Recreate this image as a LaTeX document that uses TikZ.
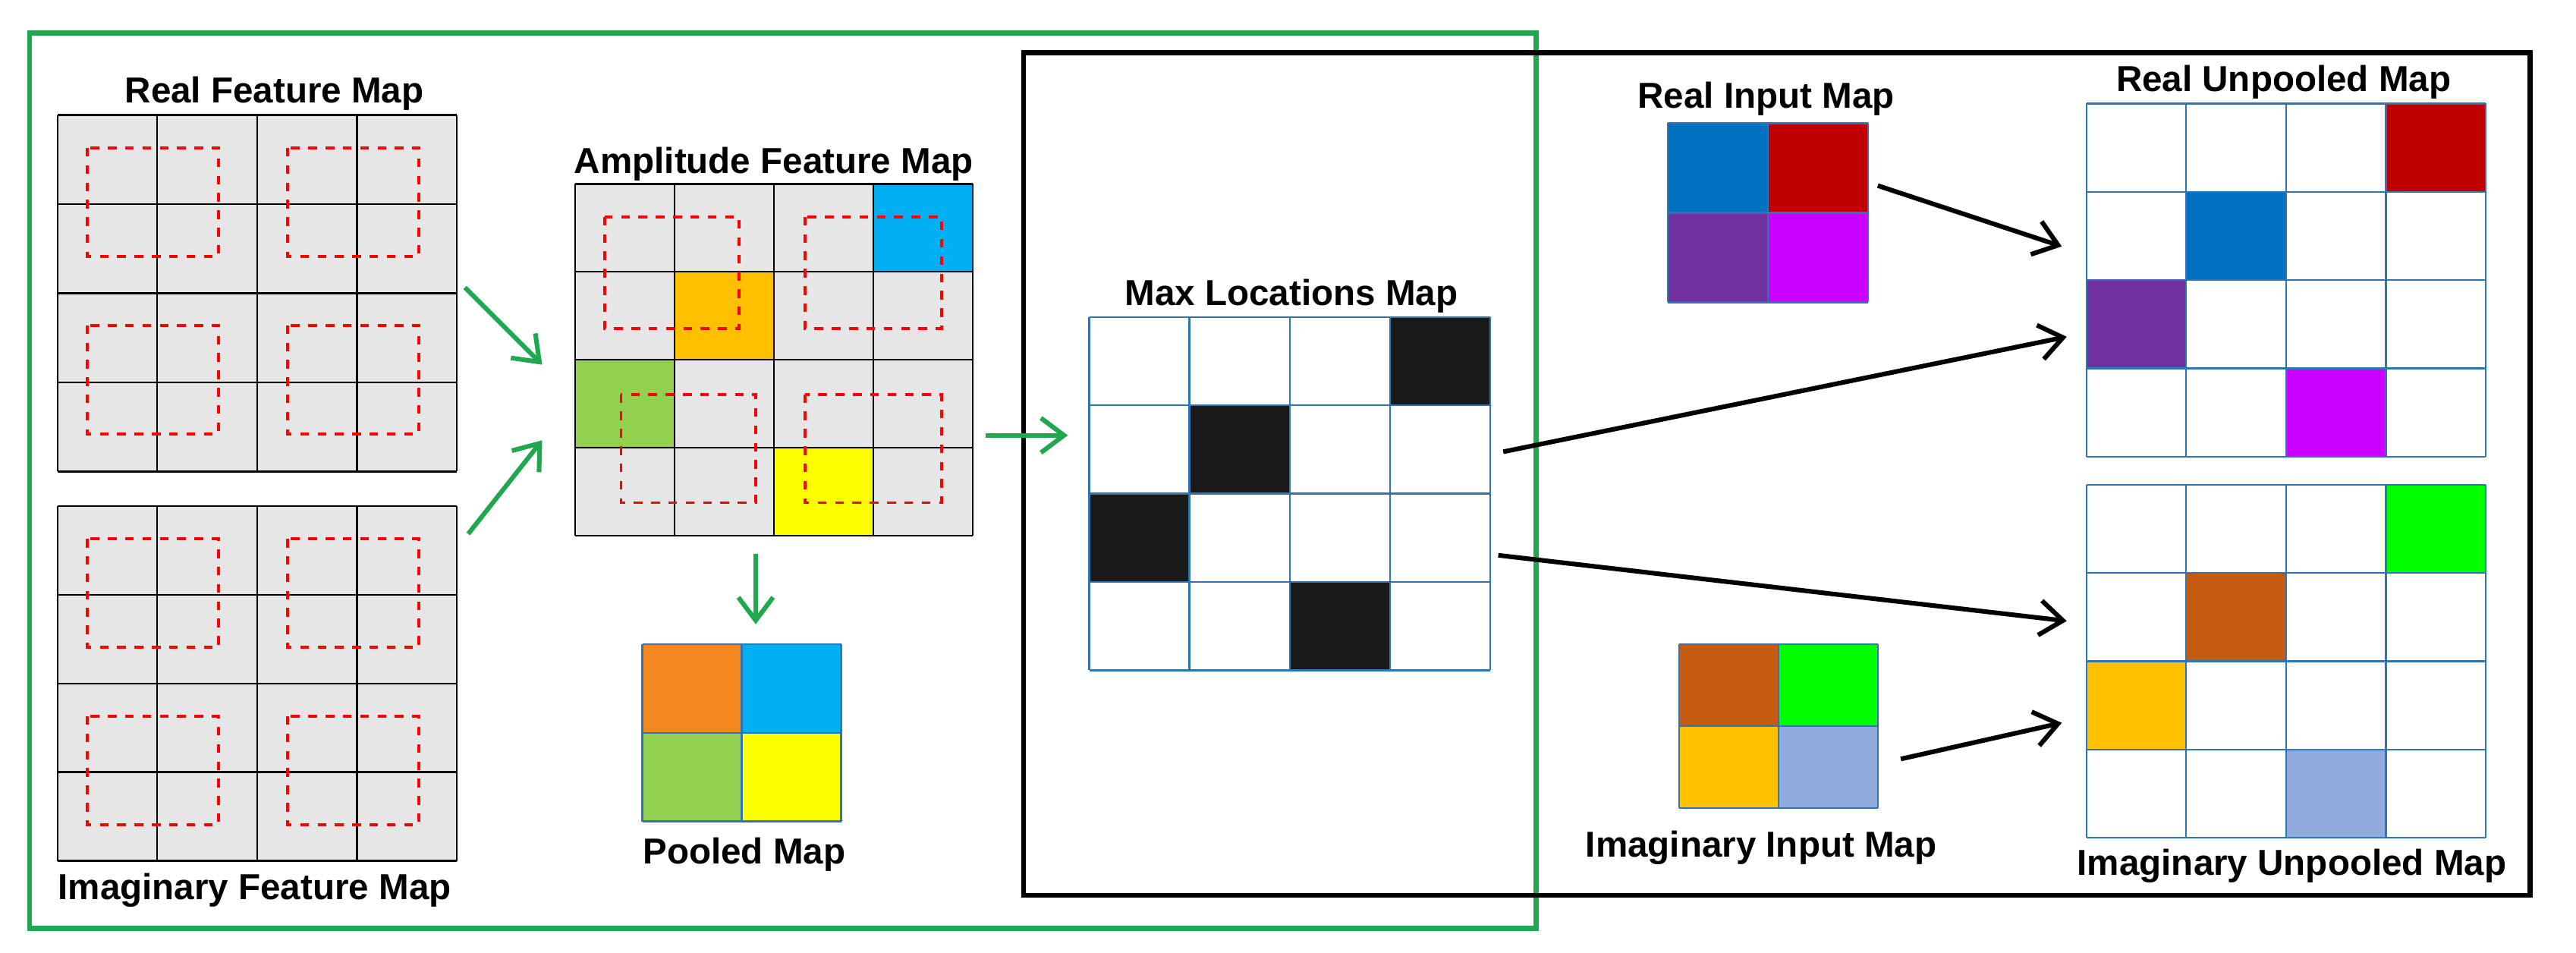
\documentclass[tikz,border=0pt]{standalone}
\usepackage{fontspec}
\setmainfont{Liberation Sans}
\usetikzlibrary{arrows.meta}
\definecolor{gcell}{HTML}{E6E6E6}
\definecolor{gframe}{HTML}{1FA84F}
\definecolor{cyanc}{HTML}{00B0F0}
\definecolor{orc}{HTML}{FFC000}
\definecolor{grc}{HTML}{92D050}
\definecolor{yec}{HTML}{FFFF00}
\definecolor{orp}{HTML}{F4861F}
\definecolor{bluc}{HTML}{0070C0}
\definecolor{redc}{HTML}{C00000}
\definecolor{purc}{HTML}{7030A0}
\definecolor{magc}{HTML}{CC00FF}
\definecolor{limc}{HTML}{00FF00}
\definecolor{brc}{HTML}{C55A11}
\definecolor{lbc}{HTML}{8FAADC}
\definecolor{gridb}{HTML}{2E75B6}
\tikzset{
 ttl/.style={font=\fontsize{12.5}{14}\selectfont\bfseries},
 garr/.style={draw=gframe,line width=1.6pt,-{Straight Barb[length=8pt,width=12pt]}},
 barr/.style={draw=black,line width=1.6pt,-{Straight Barb[length=8pt,width=12pt]}},
 reddash/.style={draw=red,dashed,line width=1pt},
}
% grid: x0,y0,x1,y1,n,fill,linecolor
\newcommand{\mygrid}[7]{%
 \fill[#6] (#1,#2) rectangle (#3,#4);
 \foreach \i in {0,...,#5}{
  \draw[#7,line width=0.6pt] ({#1+(#3-#1)*\i/#5},#2) -- ({#1+(#3-#1)*\i/#5},#4);
  \draw[#7,line width=0.6pt] (#1,{#2+(#4-#2)*\i/#5}) -- (#3,{#2+(#4-#2)*\i/#5});}
}
% cell: x0,y0,x1,y1,n,row,col,color
\newcommand{\mycell}[8]{%
 \fill[#8] ({#1+(#3-#1)*#7/#5},{#2+(#4-#2)*#6/#5}) rectangle ({#1+(#3-#1)*(#7+1)/#5},{#2+(#4-#2)*(#6+1)/#5});
}
\begin{document}
\begin{tikzpicture}[x=0.02cm,y=-0.02cm]
\useasboundingbox (0,0) rectangle (1568,580);
% frames
\draw[gframe,line width=1.8pt] (18,20) rectangle (935,565);
\draw[black,line width=1.8pt] (623,32) rectangle (1540,545);
% Real feature map
\node[ttl] (t1) at (167,57) {Real Feature Map};
\mygrid{35}{70}{278}{287}{4}{gcell}{black}
\foreach \x/\y in {53/90,175/90,53/198,175/198}
  \draw[reddash] (\x,\y) rectangle ++(80,66);
% Imag feature map
\node[ttl] (t2) at (155,542) {Imaginary Feature Map};
\mygrid{35}{308}{278}{524}{4}{gcell}{black}
\foreach \x/\y in {53/328,175/328,53/436,175/436}
  \draw[reddash] (\x,\y) rectangle ++(80,66);
% Amplitude
\node[ttl] (t3) at (471,100) {Amplitude Feature Map};
\mygrid{350}{112}{592}{326}{4}{gcell}{black}
\mycell{350}{112}{592}{326}{4}{0}{3}{cyanc}
\mycell{350}{112}{592}{326}{4}{1}{1}{orc}
\mycell{350}{112}{592}{326}{4}{2}{0}{grc}
\mycell{350}{112}{592}{326}{4}{3}{2}{yec}
\mygrid{350}{112}{592}{326}{4}{gcell,opacity=0}{black}
\draw[reddash] (368,132) rectangle (450,200);
\draw[reddash] (490,132) rectangle (573,200);
\draw[reddash] (378,240) rectangle (460,306);
\draw[reddash] (490,240) rectangle (573,306);
% Pooled
\mycell{391}{392}{512}{500}{2}{0}{0}{orp}
\mycell{391}{392}{512}{500}{2}{0}{1}{cyanc}
\mycell{391}{392}{512}{500}{2}{1}{0}{grc}
\mycell{391}{392}{512}{500}{2}{1}{1}{yec}
\mygrid{391}{392}{512}{500}{2}{gcell,opacity=0}{gridb}
\node[ttl] (t4) at (453,520) {Pooled Map};
% Max loc
\node[ttl] (t5) at (786,180) {Max Locations Map};
\mygrid{663}{193}{907}{408}{4}{white}{gridb}
\foreach \r/\c in {0/3,1/1,2/0,3/2}{\mycell{663}{193}{907}{408}{4}{\r}{\c}{black!90}}
\mygrid{663}{193}{907}{408}{4}{gcell,opacity=0}{gridb}
% Real input
\node[ttl] (t6) at (1075,60) {Real Input Map};
\mycell{1015}{75}{1137}{184}{2}{0}{0}{bluc}
\mycell{1015}{75}{1137}{184}{2}{0}{1}{redc}
\mycell{1015}{75}{1137}{184}{2}{1}{0}{purc}
\mycell{1015}{75}{1137}{184}{2}{1}{1}{magc}
\mygrid{1015}{75}{1137}{184}{2}{gcell,opacity=0}{gridb}
% Real unpooled
\node[ttl] (t7) at (1390,50) {Real Unpooled Map};
\mygrid{1270}{63}{1513}{278}{4}{white}{gridb}
\mycell{1270}{63}{1513}{278}{4}{0}{3}{redc}
\mycell{1270}{63}{1513}{278}{4}{1}{1}{bluc}
\mycell{1270}{63}{1513}{278}{4}{2}{0}{purc}
\mycell{1270}{63}{1513}{278}{4}{3}{2}{magc}
\mygrid{1270}{63}{1513}{278}{4}{gcell,opacity=0}{gridb}
% Imag unpooled
\node[ttl] (t8) at (1395,527) {Imaginary Unpooled Map};
\mygrid{1270}{295}{1513}{510}{4}{white}{gridb}
\mycell{1270}{295}{1513}{510}{4}{0}{3}{limc}
\mycell{1270}{295}{1513}{510}{4}{1}{1}{brc}
\mycell{1270}{295}{1513}{510}{4}{2}{0}{orc}
\mycell{1270}{295}{1513}{510}{4}{3}{2}{lbc}
\mygrid{1270}{295}{1513}{510}{4}{gcell,opacity=0}{gridb}
% Imag input
\mycell{1022}{392}{1143}{492}{2}{0}{0}{brc}
\mycell{1022}{392}{1143}{492}{2}{0}{1}{limc}
\mycell{1022}{392}{1143}{492}{2}{1}{0}{orc}
\mycell{1022}{392}{1143}{492}{2}{1}{1}{lbc}
\mygrid{1022}{392}{1143}{492}{2}{gcell,opacity=0}{gridb}
\node[ttl] (t9) at (1072,516) {Imaginary Input Map};
% arrow coordinates
\coordinate (a1s) at (283,175); \coordinate (a1e) at (330,222);
\coordinate (a2s) at (285,325); \coordinate (a2e) at (330,268);
\coordinate (a3s) at (460,337); \coordinate (a3e) at (460,380);
\coordinate (a4s) at (600,265); \coordinate (a4e) at (650,265);
\coordinate (b1s) at (1143,113); \coordinate (b1e) at (1255,150);
\coordinate (b2s) at (915,275); \coordinate (b2e) at (1258,205);
\coordinate (b3s) at (912,338); \coordinate (b3e) at (1258,378);
\coordinate (b4s) at (1157,462); \coordinate (b4e) at (1255,440);
\draw[garr] (a1s) -- (a1e);
\draw[garr] (a2s) -- (a2e);
\draw[garr] (a3s) -- (a3e);
\draw[garr] (a4s) -- (a4e);
\draw[barr] (b1s) -- (b1e);
\draw[barr] (b2s) -- (b2e);
\draw[barr] (b3s) -- (b3e);
\draw[barr] (b4s) -- (b4e);
\end{tikzpicture}
\end{document}
